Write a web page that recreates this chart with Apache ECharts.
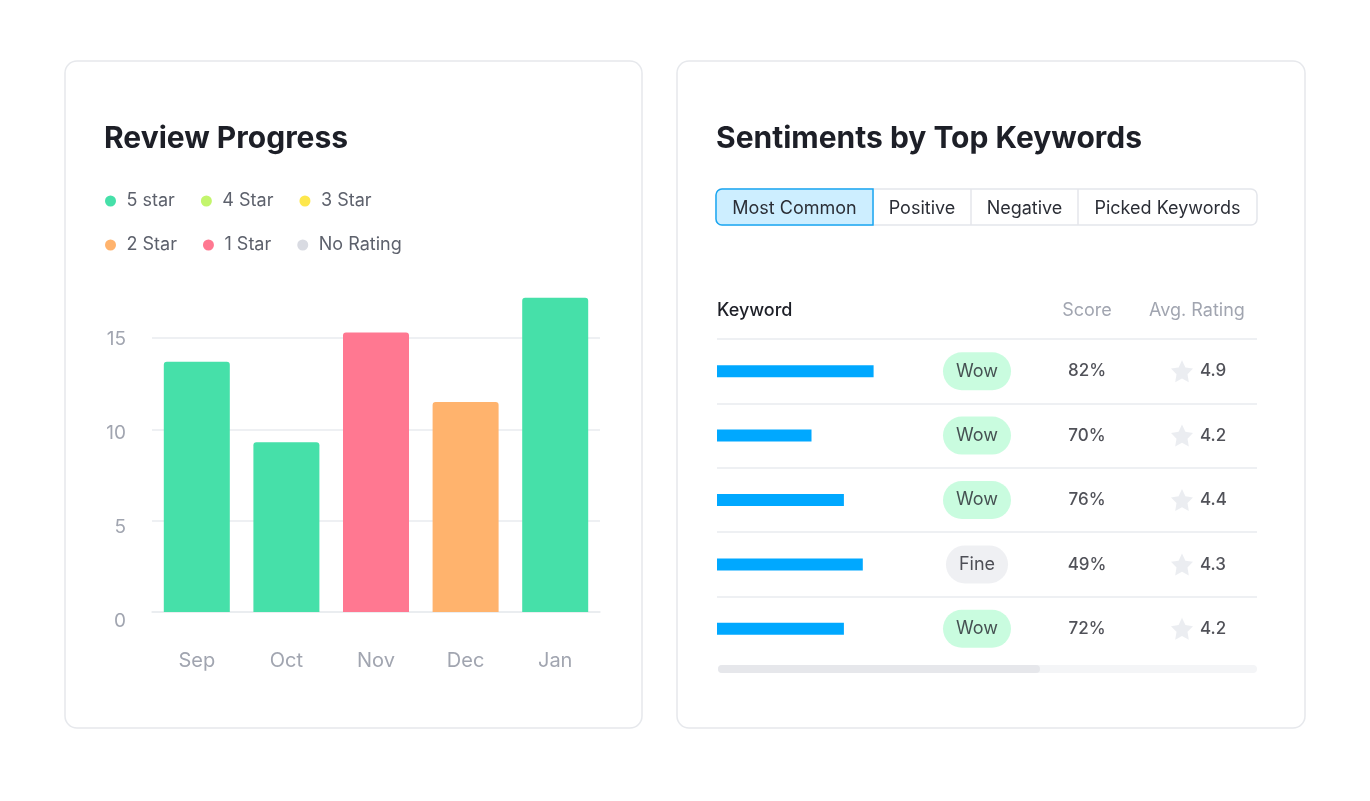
<!DOCTYPE html>
<html lang="en">
<head>
    <meta charset="UTF-8">
    <title>Reviews</title>
    <style>
        body {
            margin: 0;
            padding: 0;
            background: #ffffff;
        }
        #main {
            width: 1370px;
            height: 801px;
        }
    </style>
</head>
<body>
<div id="main"></div>
<script src="https://cdn.jsdelivr.net/npm/echarts@6/dist/echarts.min.js"></script>
<script>
    // review progress
    const months = ["Sep", "Oct", "Nov", "Dec", "Jan"];
    const reviewCounts = [13.7, 9.3, 15.3, 11.5, 17.2];
    const monthRating = ["5 star", "5 star", "1 Star", "2 Star", "5 star"];
    const ratingLevels = ["5 star", "4 Star", "3 Star", "2 Star", "1 Star", "No Rating"];
    const ratingColors = ["#46e0a9", "#c3f56c", "#fde74c", "#ffb36d", "#ff7891", "#d9dbe2"];

    // sentiments table
    const tabs = ["Most Common", "Positive", "Negative", "Picked Keywords"];
    const rows = ["k1", "k2", "k3", "k4", "k5"];
    const keywordVolume = [58, 35, 47, 54, 47];
    const sentiments = ["Wow", "Wow", "Wow", "Fine", "Wow"];
    const scores = [82, 70, 76, 49, 72];
    const avgRatings = [4.9, 4.2, 4.4, 4.3, 4.2];
    const tableColumns = ["Sentiment", "Score", "Avg. Rating"];

    const chart = echarts.init(document.getElementById("main"));
    const font = "Inter";
    const dark = "#1d1f27";
    const cellText = "#24262e";
    const muted = "#a1a5b0";
    const lineColor = "#e9ebef";
    const starPath = "path://M12 2l3.09 6.26L22 9.27l-5 4.87 1.18 6.88L12 17.77l-6.18 3.25L7 14.14 2 9.27l6.91-1.01L12 2z";

    const ratingSeries = ratingLevels.map((level, k) => ({
        name: level,
        type: "bar",
        stack: "total",
        xAxisIndex: 0,
        yAxisIndex: 0,
        barWidth: 66,
        itemStyle: {color: ratingColors[k], borderRadius: [3, 3, 0, 0]},
        data: months.map((m, i) => monthRating[i] === level ? reviewCounts[i] : "-"),
    }));

    // tab buttons
    const tabWidths = [157, 98, 107, 179];
    const tabEls = [];
    let tx = 716;
    tabs.forEach((t, i) => {
        if (i === 0) {
            tabEls.push({
                type: "rect",
                shape: {x: tx, y: 189, width: tabWidths[i], height: 36, r: [6, 0, 0, 6]},
                style: {fill: "#cdeeff", stroke: "#1aa7f2", lineWidth: 1.5},
                z: 3,
            });
        } else {
            tabEls.push({
                type: "line",
                shape: {x1: tx, y1: 189, x2: tx, y2: 225},
                style: {stroke: "#e4e6eb", lineWidth: 1.5},
                z: 2,
            });
        }
        tabEls.push({
            type: "text",
            x: tx + tabWidths[i] / 2,
            y: 209,
            style: {
                text: t, fill: "#2b2e36", font: "18px " + font,
                align: "center", verticalAlign: "middle",
            },
            z: 4,
        });
        tx += tabWidths[i];
    });

    const legendBase = {
        left: 105, padding: 0,
        icon: "circle", itemWidth: 22, itemHeight: 11, itemGap: 26,
        textStyle: {fontSize: 18, color: "#5d616c", fontFamily: font},
        selectedMode: false,
    };

    const option = {
        backgroundColor: "#ffffff",
        textStyle: {fontFamily: font},
        animation: false,
        title: [
            {
                text: "Review Progress", left: 104, top: 124, padding: 0,
                textStyle: {fontSize: 30, fontWeight: 700, color: dark, fontFamily: font},
            },
            {
                text: "Sentiments by Top Keywords", left: 716, top: 124, padding: 0,
                textStyle: {fontSize: 30, fontWeight: 700, color: dark, fontFamily: font},
            },
            {
                text: "Keyword", left: 717, top: 302, padding: 0,
                textStyle: {fontSize: 18, fontWeight: 500, color: dark, fontFamily: font},
            },
        ],
        legend: [
            Object.assign({data: ratingLevels.slice(0, 3), top: 192}, legendBase),
            Object.assign({data: ratingLevels.slice(3), top: 236}, legendBase),
        ],
        grid: [
            {left: 152, right: 770, top: 246.7, bottom: 189},
            {left: 717, right: 113, top: 339, height: 322},
            {left: 922, right: 118, top: 339, height: 322},
            // label rail for the review axis (labels sit a little below their lines)
            {left: 152, right: 770, top: 245.7, bottom: 179.3},
        ],
        xAxis: [
            {
                gridIndex: 0,
                type: "category",
                data: months,
                axisLine: {lineStyle: {color: lineColor, width: 1.5}},
                axisTick: {alignWithLabel: true, length: 18, lineStyle: {color: lineColor, width: 1.5}},
                axisLabel: {margin: 39, fontSize: 20, color: muted},
            },
            {
                gridIndex: 1, type: "value", min: 0, max: 200, show: false,
            },
            {
                gridIndex: 2,
                type: "category",
                data: tableColumns,
                position: "top",
                axisLine: {show: false},
                axisTick: {show: false},
                axisLabel: {
                    interval: 0, margin: 19, fontSize: 18, color: muted,
                    formatter: v => v === "Sentiment" ? "" : v,
                },
            },
            {
                gridIndex: 3, type: "category", data: months, show: false,
            },
        ],
        yAxis: [
            {
                gridIndex: 0,
                type: "value",
                min: 0,
                max: 20,
                interval: 5,
                axisLine: {show: false},
                axisTick: {show: false},
                axisLabel: {show: false},
                splitLine: {showMaxLine: false, lineStyle: {color: lineColor, width: 1.5}},
            },
            {
                gridIndex: 1,
                type: "category",
                data: rows,
                inverse: true,
                axisLine: {show: false},
                axisTick: {show: false},
                axisLabel: {show: false},
                splitLine: {show: true, showMaxLine: false, lineStyle: {color: lineColor, width: 1.5}},
            },
            {
                gridIndex: 2,
                type: "category",
                data: rows,
                inverse: true,
                show: false,
            },
            {
                gridIndex: 3,
                type: "value",
                min: 0,
                max: 20,
                interval: 5,
                axisLine: {show: false},
                axisTick: {show: false},
                splitLine: {show: false},
                axisLabel: {margin: 26, fontSize: 19, color: muted, showMaxLabel: false},
            },
        ],
        series: [
            ...ratingSeries,
            {
                name: "keywords",
                type: "bar",
                xAxisIndex: 1,
                yAxisIndex: 1,
                barWidth: 12,
                itemStyle: {color: "#00a8ff"},
                data: keywordVolume,
            },
            {
                name: "sentiment",
                type: "scatter",
                xAxisIndex: 2,
                yAxisIndex: 2,
                symbolSize: 0,
                label: {
                    show: true,
                    position: "inside",
                    formatter: p => sentiments[p.dataIndex],
                    fontSize: 18,
                    color: cellText,
                    padding: [10, 13],
                    borderRadius: 19,
                },
                data: sentiments.map((s, i) => ({
                    value: ["Sentiment", i],
                    label: {backgroundColor: s === "Wow" ? "#bcfbd7" : "#ebecf0"},
                })),
            },
            {
                name: "score",
                type: "scatter",
                xAxisIndex: 2,
                yAxisIndex: 2,
                symbolSize: 0,
                label: {
                    show: true,
                    position: "inside",
                    formatter: p => scores[p.dataIndex] + "%",
                    fontSize: 17,
                    fontWeight: 500,
                    color: cellText,
                },
                data: scores.map((v, i) => ["Score", i]),
            },
            {
                name: "rating",
                type: "scatter",
                xAxisIndex: 2,
                yAxisIndex: 2,
                symbol: starPath,
                symbolSize: 22,
                symbolOffset: [-15, 0],
                itemStyle: {color: "#e6e8ed"},
                label: {
                    show: true,
                    position: "right",
                    distance: 7,
                    formatter: p => avgRatings[p.dataIndex].toFixed(1),
                    fontSize: 17,
                    fontWeight: 500,
                    color: cellText,
                },
                data: avgRatings.map((v, i) => ["Avg. Rating", i]),
            },
        ],
        graphic: [
            {
                type: "rect",
                shape: {x: 65, y: 61, width: 577, height: 667, r: 12},
                style: {fill: "#ffffff", stroke: "#e6e8ec", lineWidth: 1.5},
                z: -10,
            },
            {
                type: "rect",
                shape: {x: 677, y: 61, width: 628, height: 667, r: 12},
                style: {fill: "#ffffff", stroke: "#e6e8ec", lineWidth: 1.5},
                z: -10,
            },
            {
                type: "rect",
                shape: {x: 716, y: 189, width: 541, height: 36, r: 6},
                style: {fill: "#ffffff", stroke: "#e4e6eb", lineWidth: 1.5},
                z: 1,
            },
            ...tabEls,
            {
                type: "rect",
                shape: {x: 718, y: 665, width: 539, height: 8, r: 4},
                style: {fill: "#f4f5f7"},
            },
            {
                type: "rect",
                shape: {x: 718, y: 665, width: 322, height: 8, r: 4},
                style: {fill: "#e6e7eb"},
                z: 2,
            },
        ],
    };

    chart.setOption(option);
</script>
</body>
</html>
